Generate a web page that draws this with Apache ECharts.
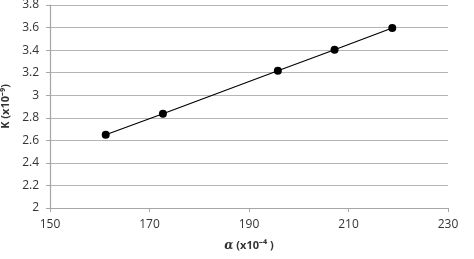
<!DOCTYPE html>
<html><head><meta charset="utf-8">
<script src="https://cdn.jsdelivr.net/npm/echarts@6/dist/echarts.min.js"></script>
<style>html,body{margin:0;padding:0;background:#fff}#c{width:474px;height:259px}</style>
</head><body><div id="c"></div>
<script>
const alphaValues = [161.2, 172.7, 195.8, 207.2, 218.8];
const kValues = [2.65, 2.836, 3.217, 3.403, 3.596];
const xTicks = [150, 170, 190, 210, 230];
const yTicks = [2, 2.2, 2.4, 2.6, 2.8, 3, 3.2, 3.4, 3.6, 3.8];

const chart = echarts.init(document.getElementById('c'));
const font = '"Open Sans", "Liberation Sans", sans-serif';
chart.setOption({
  animation: false,
  grid: {left: 50, right: 26, top: 5, bottom: 51, outerBoundsMode: 'none', containLabel: false},
  xAxis: {
    type: 'value', min: xTicks[0], max: xTicks[xTicks.length-1], interval: 20,
    name: '{a|α} (x10⁻⁴ )', nameLocation: 'middle', nameGap: 32,
    nameTextStyle: {fontFamily: font, fontSize: 11, fontWeight: 'bold', color: '#333',
      rich: {a: {fontStyle: 'italic', fontFamily: 'DejaVu Serif', fontSize: 12, fontWeight: 'bold', color: '#333'}}},
    axisLine: {lineStyle: {color: '#a6a6a6', width: 1.2}},
    axisTick: {show: true, length: 4, inside: false, lineStyle: {color: '#a6a6a6'}},
    axisLabel: {fontFamily: font, fontSize: 12, color: '#333', margin: 11},
    splitLine: {show: false}
  },
  yAxis: {
    type: 'value', min: yTicks[0], max: yTicks[yTicks.length-1], interval: 0.2,
    name: 'K (x10⁻⁹)', nameLocation: 'middle', nameGap: 31,
    nameTextStyle: {fontFamily: font, fontSize: 11, fontWeight: 'bold', color: '#333'},
    axisLine: {show: true, lineStyle: {color: '#a6a6a6', width: 1.2}},
    axisTick: {show: true, length: 4, lineStyle: {color: '#a6a6a6'}},
    axisLabel: {fontFamily: font, fontSize: 12, color: '#333', margin: 11,
      formatter: v => String(parseFloat(v.toFixed(1)))},
    splitLine: {show: true, lineStyle: {color: '#b5b5b5', width: 1.2}}
  },
  series: [{
    type: 'line',
    data: alphaValues.map((a, i) => [a, kValues[i]]),
    symbol: 'circle', symbolSize: 8,
    itemStyle: {color: '#000'},
    lineStyle: {color: '#000', width: 1.2}
  }]
});
</script></body></html>
